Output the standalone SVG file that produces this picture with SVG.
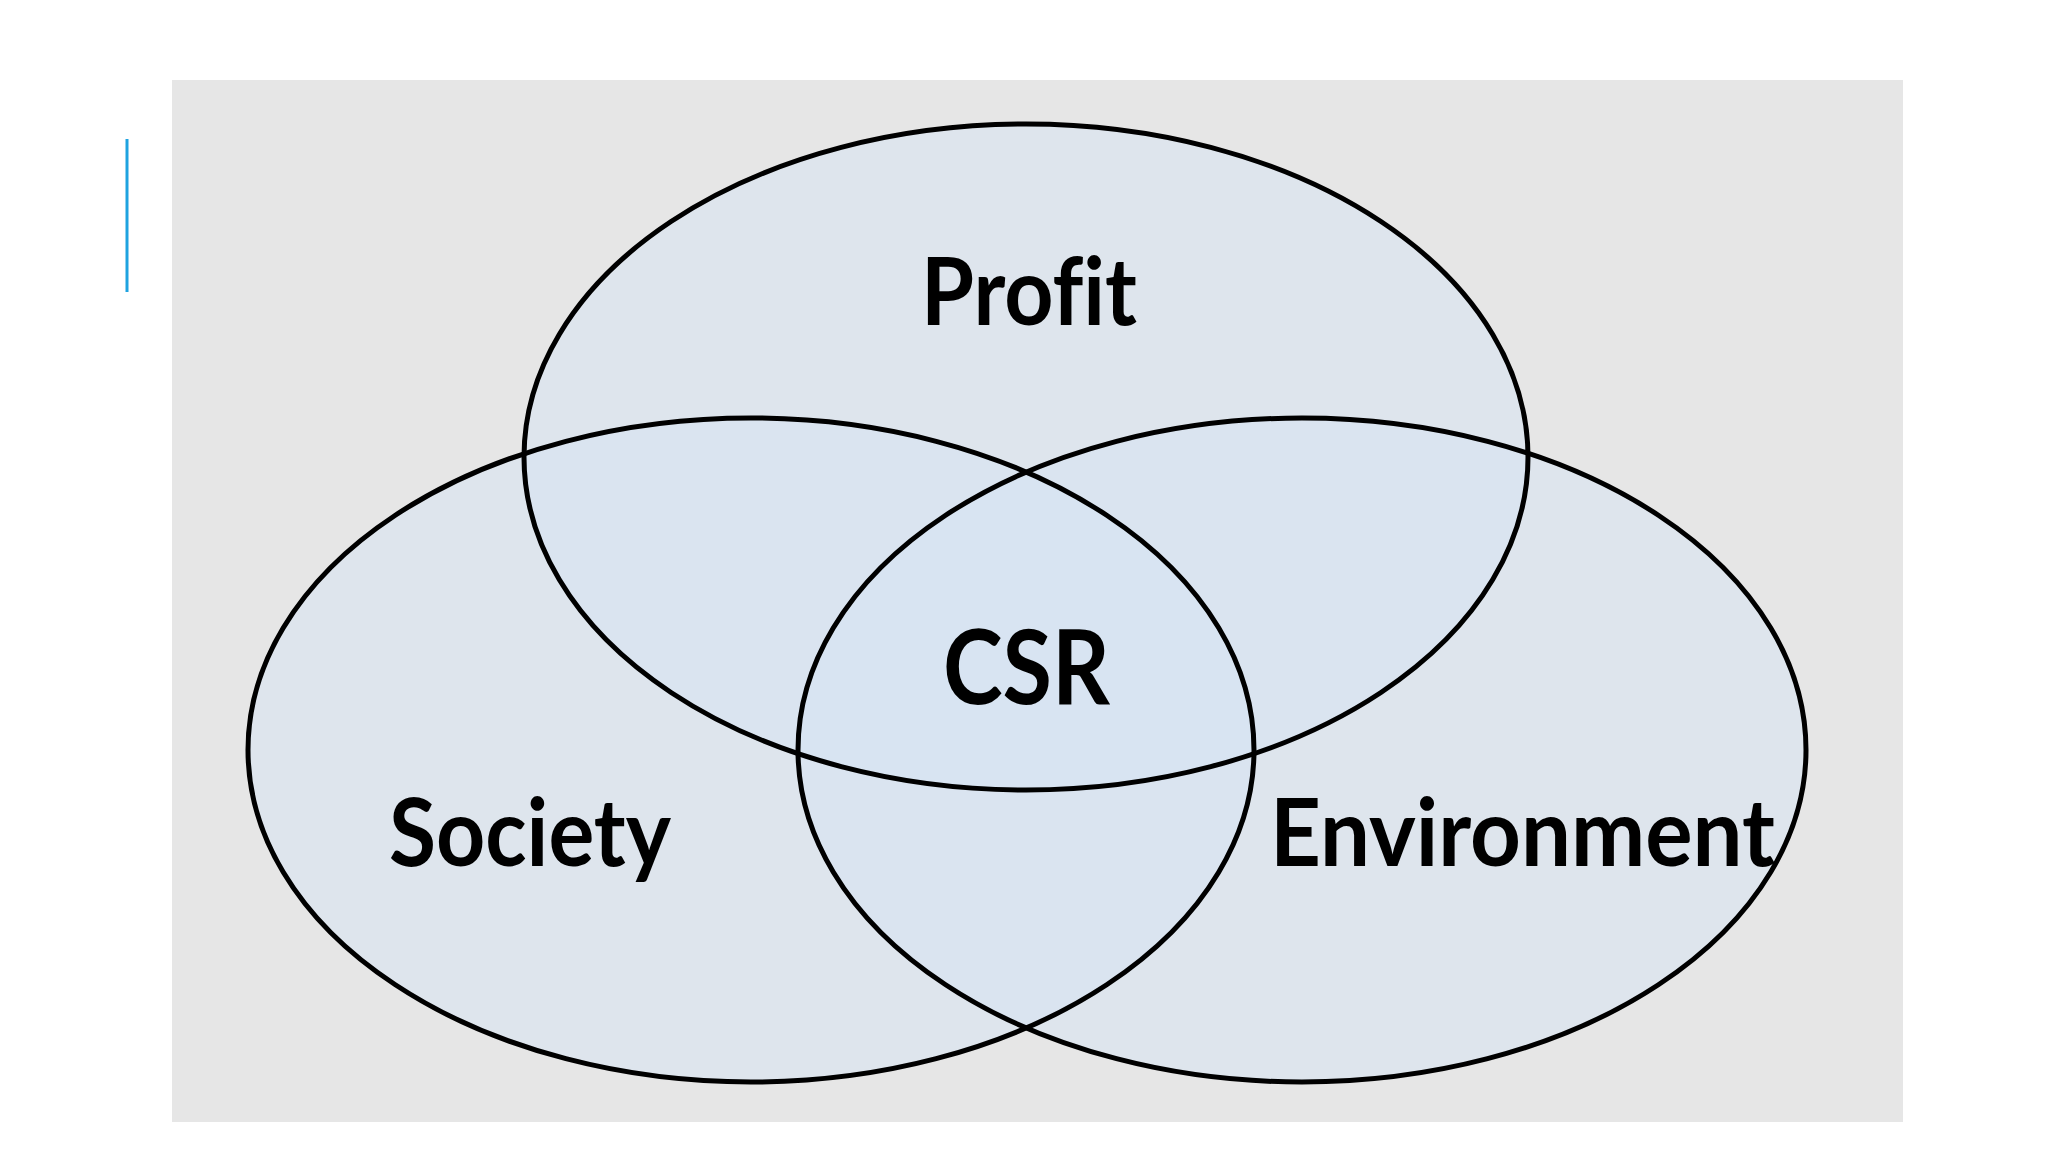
<svg xmlns="http://www.w3.org/2000/svg" width="2048" height="1152" viewBox="0 0 2048 1152">
  <style>
    .fill { fill: #d6e3f3; fill-opacity: 0.5; stroke: none; }
    .outline { fill: none; stroke: #000000; stroke-width: 5; }
    .lbl { font-family: Lato, "Liberation Sans", Arial, sans-serif; font-weight: bold; fill: #000000; font-variant-ligatures: none; font-feature-settings: "liga" 0; }
  </style>
  <rect x="0" y="0" width="2048" height="1152" fill="#ffffff"/>
  <rect x="172" y="80" width="1731" height="1042" fill="#e6e6e6"/>
  <line x1="127" y1="139" x2="127" y2="292" stroke="#1fa3e0" stroke-width="3"/>
  <g id="profit">
    <ellipse class="fill" cx="1026" cy="457" rx="502" ry="333"/>
  </g>
  <g id="society">
    <ellipse class="fill" cx="751" cy="750" rx="503" ry="332"/>
  </g>
  <g id="environment">
    <ellipse class="fill" cx="1302" cy="750" rx="504" ry="332"/>
  </g>
  <g id="outlines">
    <ellipse class="outline" cx="1026" cy="457" rx="502" ry="333"/>
    <ellipse class="outline" cx="751" cy="750" rx="503" ry="332"/>
    <ellipse class="outline" cx="1302" cy="750" rx="504" ry="332"/>
  </g>
  <g id="connectors"></g>
  <g id="labels">
    <text class="lbl" x="921" y="325" font-size="94" textLength="216" lengthAdjust="spacingAndGlyphs">Profit</text>
    <text class="lbl" x="943" y="704" font-size="103" textLength="167" lengthAdjust="spacingAndGlyphs">CSR</text>
    <text class="lbl" x="389" y="866" font-size="94" textLength="282" lengthAdjust="spacingAndGlyphs">Society</text>
    <text class="lbl" x="1270" y="866" font-size="94" textLength="505" lengthAdjust="spacingAndGlyphs">Environment</text>
  </g>
</svg>
